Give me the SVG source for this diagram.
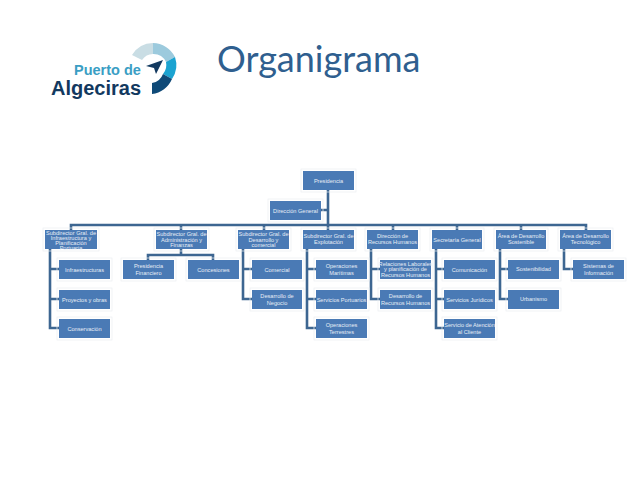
<svg xmlns="http://www.w3.org/2000/svg" width="638" height="479" viewBox="0 0 638 479">
<style>
.b{fill:#4a7ab5}
.f{fill:none;stroke:#eceef1;stroke-width:.7}
.t{font-family:"Liberation Sans",Arial,sans-serif;font-size:5.6px;fill:#e8eef6;text-anchor:middle}
.c{fill:none;stroke:#3d6691;stroke-width:2.6}
</style>
<rect width="638" height="479" fill="#fff"/>
<text x="217" y="72" font-family="Lato,'Open Sans',sans-serif" font-size="36" fill="#2f5f8f">Organigrama</text>
<g id="logo">
<path d="M132 55A25 25 0 0 1 153 43L153 54A14 14 0 0 0 142 60Z" fill="#c9dde4"/>
<path d="M153 43A25 25 0 0 1 175 57L166 62A14 14 0 0 0 153 54Z" fill="#9ccadd"/>
<path d="M175 57A25 25 0 0 1 172 79L163 74A14 14 0 0 0 166 62Z" fill="#1ba3d1"/>
<path d="M172 79A25 25 0 0 1 152 94L152 83A14 14 0 0 0 163 74Z" fill="#0f4a78"/>
<path d="M146 66L163 60L156 74L154 68Z" fill="#12395f"/>
<text x="74" y="75" font-family="'Liberation Sans',sans-serif" font-weight="700" font-size="14.500" fill="#3a9ec4">Puerto de</text>
<text x="51" y="95" font-family="'Liberation Sans',sans-serif" font-weight="700" font-size="20" fill="#12395f">Algeciras</text>
</g>
<g id="connectors">
<path class="c" d="M328 190V225M321 210H328M71 230V225H586V230M181 225V230M264 225V230M328 225V230M393 225V230M457 225V230M521 225V230"/>
<path class="c" d="M50 249V328H59M50 269H59M50 299H59"/>
<path class="c" d="M181 249V255M148 260V255H213V260"/>
<path class="c" d="M243 249V299H252M243 269H252"/>
<path class="c" d="M307 249V328H316M307 269H316M307 299H316"/>
<path class="c" d="M371 249V299H380M371 269H380"/>
<path class="c" d="M436 249V328H444M436 269H444M436 299H444"/>
<path class="c" d="M500 249V299H508M500 269H508"/>
<path class="c" d="M564 249V269H573"/>
</g>
<g id="n1"><rect class="f" x="301" y="169" width="55" height="23"/><rect class="b" x="303" y="171" width="51" height="19"/><text class="t" x="328.500" y="182.500">Presidencia</text></g>
<g id="n2"><rect class="f" x="268" y="199" width="55" height="23"/><rect class="b" x="270" y="201" width="51" height="19"/><text class="t" x="295.500" y="212.500">Dirección General</text></g>
<g id="n3"><rect class="f" x="43" y="228" width="56" height="23"/><rect class="b" x="45" y="230" width="52" height="19"/><text class="t" x="71" y="234.500">Subdirector Gral. de</text><text class="t" x="71" y="239.800">Infraestructura y</text><text class="t" x="71" y="245">Planificación</text><text class="t" x="71" y="249.500">Portuaria</text></g>
<g id="n4"><rect class="f" x="57" y="258" width="55" height="23"/><rect class="b" x="59" y="260" width="51" height="19"/><text class="t" x="84.500" y="271.500">Infraestructuras</text></g>
<g id="n5"><rect class="f" x="57" y="288" width="55" height="23"/><rect class="b" x="59" y="290" width="51" height="19"/><text class="t" x="84.500" y="301.500">Proyectos y obras</text></g>
<g id="n6"><rect class="f" x="57" y="317" width="55" height="23"/><rect class="b" x="59" y="319" width="51" height="19"/><text class="t" x="84.500" y="330.500">Conservación</text></g>
<g id="n7"><rect class="f" x="154" y="228" width="55" height="23"/><rect class="b" x="156" y="230" width="51" height="19"/><text class="t" x="181.500" y="236">Subdirector Gral. de</text><text class="t" x="181.500" y="241.500">Administración y</text><text class="t" x="181.500" y="247">Finanzas</text></g>
<g id="n8"><rect class="f" x="121" y="258" width="55" height="23"/><rect class="b" x="123" y="260" width="51" height="19"/><text class="t" x="148.500" y="268">Presidencia</text><text class="t" x="148.500" y="274.500">Financiero</text></g>
<g id="n9"><rect class="f" x="186" y="258" width="55" height="23"/><rect class="b" x="188" y="260" width="51" height="19"/><text class="t" x="213.500" y="271.500">Concesiones</text></g>
<g id="n10"><rect class="f" x="236" y="228" width="55" height="23"/><rect class="b" x="238" y="230" width="51" height="19"/><text class="t" x="263.500" y="236">Subdirector Gral. de</text><text class="t" x="263.500" y="241.500">Desarrollo y</text><text class="t" x="263.500" y="247">comercial</text></g>
<g id="n11"><rect class="f" x="250" y="258" width="54" height="23"/><rect class="b" x="252" y="260" width="50" height="19"/><text class="t" x="277" y="271.500">Comercial</text></g>
<g id="n12"><rect class="f" x="250" y="288" width="54" height="23"/><rect class="b" x="252" y="290" width="50" height="19"/><text class="t" x="277" y="298">Desarrollo de</text><text class="t" x="277" y="304.500">Negocio</text></g>
<g id="n13"><rect class="f" x="301" y="228" width="55" height="23"/><rect class="b" x="303" y="230" width="51" height="19"/><text class="t" x="328.500" y="238">Subdirector Gral. de</text><text class="t" x="328.500" y="244">Explotación</text></g>
<g id="n14"><rect class="f" x="314" y="258" width="55" height="23"/><rect class="b" x="316" y="260" width="51" height="19"/><text class="t" x="341.500" y="268">Operaciones</text><text class="t" x="341.500" y="274.500">Marítimas</text></g>
<g id="n15"><rect class="f" x="314" y="288" width="55" height="23"/><rect class="b" x="316" y="290" width="51" height="19"/><text class="t" x="341.500" y="301.500">Servicios Portuarios</text></g>
<g id="n16"><rect class="f" x="314" y="317" width="55" height="23"/><rect class="b" x="316" y="319" width="51" height="19"/><text class="t" x="341.500" y="327">Operaciones</text><text class="t" x="341.500" y="333.500">Terrestres</text></g>
<g id="n17"><rect class="f" x="365" y="228" width="55" height="23"/><rect class="b" x="367" y="230" width="51" height="19"/><text class="t" x="392.500" y="238">Dirección de</text><text class="t" x="392.500" y="244">Recursos Humanos</text></g>
<g id="n18"><rect class="f" x="378" y="258" width="55" height="23"/><rect class="b" x="380" y="260" width="51" height="19"/><text class="t" x="405.500" y="265.500">Relaciones Laborales</text><text class="t" x="405.500" y="271">y planificación de</text><text class="t" x="405.500" y="276.500">Recursos Humanos</text></g>
<g id="n19"><rect class="f" x="378" y="288" width="55" height="23"/><rect class="b" x="380" y="290" width="51" height="19"/><text class="t" x="405.500" y="298">Desarrollo de</text><text class="t" x="405.500" y="304.500">Recursos Humanos</text></g>
<g id="n20"><rect class="f" x="430" y="228" width="54" height="23"/><rect class="b" x="432" y="230" width="50" height="19"/><text class="t" x="457" y="241.500">Secretaría General</text></g>
<g id="n21"><rect class="f" x="442" y="258" width="55" height="23"/><rect class="b" x="444" y="260" width="51" height="19"/><text class="t" x="469.500" y="271.500">Comunicación</text></g>
<g id="n22"><rect class="f" x="442" y="288" width="55" height="23"/><rect class="b" x="444" y="290" width="51" height="19"/><text class="t" x="469.500" y="301.500">Servicios Jurídicos</text></g>
<g id="n23"><rect class="f" x="442" y="317" width="55" height="23"/><rect class="b" x="444" y="319" width="51" height="19"/><text class="t" x="469.500" y="327">Servicio de Atención</text><text class="t" x="469.500" y="333.500">al Cliente</text></g>
<g id="n24"><rect class="f" x="494" y="228" width="54" height="23"/><rect class="b" x="496" y="230" width="50" height="19"/><text class="t" x="521" y="238">Área de Desarrollo</text><text class="t" x="521" y="244">Sostenible</text></g>
<g id="n25"><rect class="f" x="506" y="258" width="55" height="23"/><rect class="b" x="508" y="260" width="51" height="19"/><text class="t" x="533.500" y="271">Sostenibilidad</text></g>
<g id="n26"><rect class="f" x="506" y="288" width="55" height="23"/><rect class="b" x="508" y="290" width="51" height="19"/><text class="t" x="533.500" y="301">Urbanismo</text></g>
<g id="n27"><rect class="f" x="558" y="228" width="55" height="23"/><rect class="b" x="560" y="230" width="51" height="19"/><text class="t" x="585.500" y="238">Área de Desarrollo</text><text class="t" x="585.500" y="244">Tecnológico</text></g>
<g id="n28"><rect class="f" x="571" y="258" width="55" height="23"/><rect class="b" x="573" y="260" width="51" height="19"/><text class="t" x="598.500" y="268">Sistemas de</text><text class="t" x="598.500" y="274.500">Información</text></g>
</svg>
